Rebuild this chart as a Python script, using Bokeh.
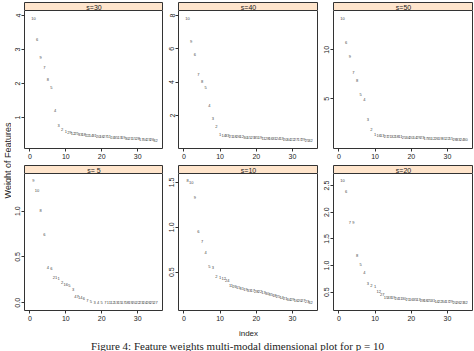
import math
from bokeh.plotting import figure
from bokeh.layouts import row, column
from bokeh.models import ColumnDataSource, Range1d, FixedTicker
from bokeh.embed import file_html
from bokeh.resources import INLINE
from bokeh.core.properties import value

index = list(range(1, 36))

strip_labels = ["s=30", "s=40", "s=50", "s= 5", "s=10", "s=20"]

w_s30 = [3.90, 3.29, 2.77, 2.48, 2.11, 1.87, 1.21, 0.76, 0.65, 0.59,
         0.55, 0.53, 0.52, 0.50, 0.49, 0.48, 0.47, 0.46, 0.45, 0.44,
         0.43, 0.43, 0.42, 0.41, 0.40, 0.40, 0.39, 0.38, 0.38, 0.37,
         0.36, 0.36, 0.35, 0.34, 0.33]
w_s40 = [7.80, 6.46, 5.66, 4.44, 4.04, 3.68, 2.58, 1.82, 1.36, 0.84,
         0.80, 0.78, 0.76, 0.75, 0.73, 0.72, 0.70, 0.69, 0.68, 0.67,
         0.66, 0.65, 0.64, 0.63, 0.62, 0.61, 0.60, 0.59, 0.58, 0.57,
         0.56, 0.55, 0.54, 0.52, 0.50]
w_s50 = [13.16, 10.71, 9.35, 7.71, 6.87, 5.44, 4.90, 2.89, 1.87, 1.33,
         1.26, 1.22, 1.19, 1.17, 1.15, 1.13, 1.11, 1.10, 1.08, 1.06,
         1.05, 1.03, 1.02, 1.00, 0.99, 0.97, 0.96, 0.94, 0.93, 0.91,
         0.90, 0.88, 0.86, 0.84, 0.82]
w_s5 = [1.33, 1.23, 1.01, 0.75, 0.38, 0.37, 0.28, 0.27, 0.22, 0.20,
        0.19, 0.15, 0.07, 0.06, 0.05, 0.03, 0.015, 0.006, 0.005, 0.005,
        0.004, 0.004, 0.004, 0.003, 0.003, 0.003, 0.003, 0.002, 0.002, 0.002,
        0.002, 0.001, 0.001, 0.001, 0.001]
w_s10 = [1.52, 1.50, 1.33, 0.95, 0.84, 0.72, 0.56, 0.55, 0.45, 0.44,
         0.43, 0.41, 0.35, 0.34, 0.33, 0.32, 0.31, 0.30, 0.30, 0.29,
         0.28, 0.27, 0.26, 0.25, 0.24, 0.23, 0.22, 0.21, 0.20, 0.20,
         0.19, 0.18, 0.18, 0.17, 0.165]
w_s20 = [2.59, 2.38, 1.81, 1.80, 1.19, 1.01, 0.87, 0.66, 0.62, 0.61,
         0.51, 0.45, 0.41, 0.40, 0.40, 0.39, 0.39, 0.38, 0.37, 0.37,
         0.36, 0.36, 0.35, 0.35, 0.34, 0.34, 0.33, 0.33, 0.33, 0.32,
         0.32, 0.31, 0.31, 0.30, 0.30]

f_s30 = [10, 6, 9, 7, 8, 5, 4, 3, 2, 1, 29, 12, 25, 33, 18, 22, 14, 31, 20, 16,
         27, 11, 24, 35, 13, 19, 30, 21, 15, 28, 17, 34, 23, 26, 32]
f_s40 = [10, 9, 6, 7, 8, 5, 4, 3, 2, 1, 14, 33, 21, 18, 26, 12, 30, 15, 23, 35,
         19, 11, 28, 16, 31, 24, 13, 20, 34, 22, 27, 17, 29, 25, 32]
f_s50 = [10, 6, 9, 7, 8, 5, 4, 3, 2, 1, 16, 13, 27, 21, 32, 18, 11, 25, 34, 20,
         14, 29, 23, 17, 35, 12, 26, 19, 31, 22, 15, 28, 33, 24, 30]
f_s5 = [9, 10, 8, 6, 4, 6, 21, 1, 2, 16, 5, 3, 47, 14, 6, 7, 5, 3, 4, 5,
        7, 11, 12, 13, 15, 17, 18, 19, 20, 22, 23, 24, 26, 25, 27]
f_s10 = [8, 10, 9, 6, 7, 4, 5, 3, 2, 1, 12, 24, 11, 26, 15, 31, 19, 33, 17, 28,
         22, 13, 30, 35, 18, 25, 14, 21, 34, 29, 16, 20, 27, 23, 32]
f_s20 = [10, 6, 7, 9, 8, 5, 4, 3, 2, 1, 12, 27, 15, 33, 19, 24, 11, 30, 21, 16,
         35, 13, 28, 18, 25, 31, 14, 22, 34, 17, 29, 20, 26, 23, 32]

y_ranges = [(0.088, 4.147), (0.02, 8.30), (-0.07, 14.01),
            (-0.084, 1.41), (0.073, 1.60), (0.157, 2.725)]
y_ticks = [[1, 2, 3, 4], [2, 4, 6, 8], [5, 10],
           [0.0, 0.5, 1.0], [0.5, 1.0, 1.5], [0.5, 1.0, 1.5, 2.0, 2.5]]
y_tick_labels = [["1", "2", "3", "4"], ["2", "4", "6", "8"], ["5", "10"],
                 ["0.0", "0.5", "1.0"], ["0.5", "1.0", "1.5"],
                 ["0.5", "1.0", "1.5", "2.0", "2.5"]]
x_ticks = [0, 10, 20, 30]

weights = [w_s30, w_s40, w_s50, w_s5, w_s10, w_s20]
feats = [f_s30, f_s40, f_s50, f_s5, f_s10, f_s20]

FONT = "Liberation Sans"
INK = "#333333"
STRIP = "#FFE5CC"

cells = []
for i in range(6):
    top = i < 3
    first = (i % 3 == 0)
    fw = 139 if first else 140
    bl = 13 if first else 15

    # strip (lattice-style panel header)
    s = figure(frame_width=fw, frame_height=10,
               x_range=Range1d(0, 1), y_range=Range1d(0, 1),
               output_backend="svg", toolbar_location=None,
               min_border_left=bl, min_border_right=0,
               min_border_top=0, min_border_bottom=0,
               background_fill_color=STRIP, border_fill_color="white")
    s.outline_line_color = INK
    s.axis.visible = False
    s.grid.visible = False
    s.text(x=[0.5], y=[0.5], text=[strip_labels[i]], text_font=value(FONT),
           text_font_size="7px", text_align="center", text_baseline="middle",
           text_line_height=1.0, text_color="#222222")

    p = figure(frame_width=fw,
               frame_height=138 if top else 137,
               x_range=Range1d(-1.5, 37.2),
               y_range=Range1d(*y_ranges[i]),
               output_backend="svg", toolbar_location=None,
               min_border_left=bl,
               min_border_right=0, min_border_top=0, min_border_bottom=15,
               background_fill_color="white", border_fill_color="white")
    p.outline_line_color = INK
    p.outline_line_width = 1
    p.grid.visible = False

    ticks = y_ticks[i]
    p.yaxis.ticker = FixedTicker(ticks=ticks)
    p.yaxis.major_label_overrides = {t: l for t, l in zip(ticks, y_tick_labels[i])}
    p.yaxis.major_label_orientation = "vertical"
    p.xaxis.ticker = FixedTicker(ticks=x_ticks)
    for ax in (p.xaxis[0], p.yaxis[0]):
        ax.axis_line_color = None
        ax.major_tick_line_color = INK
        ax.major_tick_out = 3
        ax.major_tick_in = 0
        ax.minor_tick_line_color = None
        ax.major_label_text_font = FONT
        ax.major_label_text_font_size = "7px"
        ax.major_label_text_color = "#222222"
    p.yaxis.major_label_standoff = 1
    p.xaxis.major_label_standoff = 2

    src = ColumnDataSource(dict(x=index, y=weights[i],
                                lab=[str(v) for v in feats[i]]))
    p.text(x="x", y="y", text="lab", source=src, text_font=value(FONT),
           text_font_size="4px", text_align="center",
           text_baseline="middle", text_color="#444444")
    cells.append(column(s, p))

# y-axis label column
ylab = figure(width=11, height=325, x_range=Range1d(0, 11), y_range=Range1d(0, 325),
              output_backend="svg", toolbar_location=None,
              min_border=0, outline_line_color=None)
ylab.axis.visible = False
ylab.grid.visible = False
ylab.text(x=[7], y=[165], text=["Weight of Features"], angle=math.pi / 2,
          text_font=value(FONT), text_font_size="9px", text_align="center",
          text_baseline="middle", text_color="#222222")

# footer with x label and caption
foot = figure(width=474, height=26, x_range=Range1d(0, 474), y_range=Range1d(0, 26),
              output_backend="svg", toolbar_location=None,
              min_border=0, outline_line_color=None)
foot.axis.visible = False
foot.grid.visible = False
foot.text(x=[248], y=[18], text=["index"], text_font=value(FONT),
          text_font_size="8px", text_align="center", text_baseline="middle",
          text_color="#222222")
foot.text(x=[237], y=[6], text=["Figure 4: Feature weights multi-modal dimensional plot for p = 10"],
          text_font=value("Liberation Serif"), text_font_size="11px",
          text_align="center", text_baseline="middle", text_color="#222222")

grid = column(row(*cells[:3]), row(*cells[3:]))
layout = column(row(ylab, grid), foot)

open("out.html", "w").write(file_html(layout, INLINE))
